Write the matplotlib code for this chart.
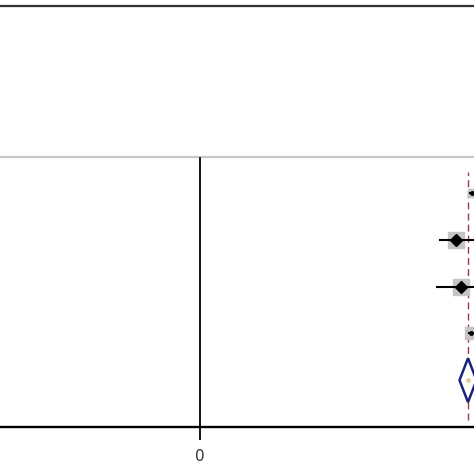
import numpy as np
import matplotlib.pyplot as plt
from matplotlib.patches import Polygon

# study rows (top to bottom), estimates and CIs
rows = [5, 4, 3, 2]
est = [2.72, 2.56, 2.61, 2.71]
lo = [2.70, 2.40, 2.37, 2.69]
hi = [2.74, 2.78, 2.85, 2.73]
box_size = [6, 12, 11, 8]

# pooled estimate
pooled_row = 1
pooled = 2.68
pooled_lo = 2.595
pooled_hi = 2.765

xticks = [0]
xticklabels = ["0"]

fig = plt.figure(figsize=(4.74, 4.74), dpi=100)
ax = fig.add_axes([0, 0.0992, 1, 0.888])
ax.set_xlim(-2.0, 2.74)
ax.set_ylim(0, 9)

# header separator and null line
ax.axhline(5.77, color="#c8c8c8", lw=1.6)
ax.vlines(0, 0, 5.77, color="black", lw=1.3)

# overall effect line
ax.vlines(pooled, 0.15, 5.45, color="#9a3b4c", lw=1.0, linestyles=(0, (5, 3)))

for r, e, l, h, s in zip(rows, est, lo, hi, box_size):
    ax.plot([l, h], [r, r], color="black", lw=1.5, zorder=3)
    ax.plot(e, r, marker="s", ms=s, color="#c4c4c4", mec="#c4c4c4", zorder=2)
    if s > 10:
        ax.plot(e, r, marker="D", ms=6, color="black", zorder=4)
    else:
        ax.plot(e, r, marker="o", ms=2.5, color="black", zorder=4)

dia = Polygon([[pooled_lo, pooled_row], [pooled, pooled_row + 0.47],
               [pooled_hi, pooled_row], [pooled, pooled_row - 0.47]],
              closed=True, facecolor="white", edgecolor="#1a237e", lw=1.8, zorder=5)
ax.add_patch(dia)
ax.plot(pooled, pooled_row, marker="o", ms=2.5, color="#e8c89a", zorder=6)

for side in ["left", "right"]:
    ax.spines[side].set_visible(False)
ax.spines["top"].set_color("#333333")
ax.spines["top"].set_linewidth(1.6)
ax.spines["bottom"].set_color("black")
ax.spines["bottom"].set_linewidth(1.7)

ax.set_yticks([])
ax.set_xticks(xticks)
ax.set_xticklabels(xticklabels, fontsize=11, color="#333333")
ax.tick_params(axis="x", length=9, width=1.3, pad=7)

fig.savefig("out.png", dpi=100)
